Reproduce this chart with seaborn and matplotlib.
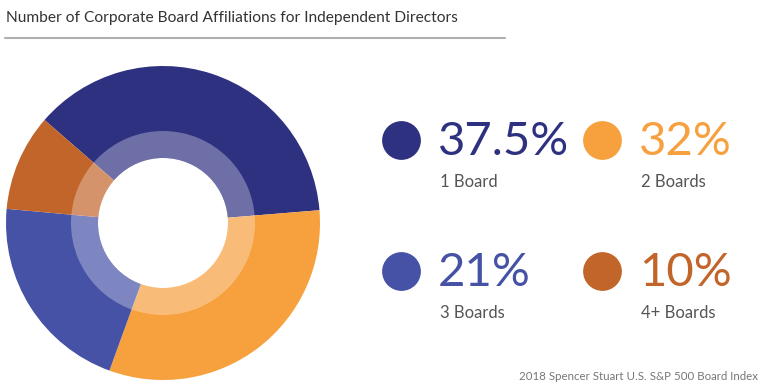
import numpy as np
import matplotlib
matplotlib.use("Agg")
import matplotlib.pyplot as plt
import seaborn as sns

categories = ["1 Board", "2 Boards", "3 Boards", "4+ Boards"]
shares = [37.5, 32, 21, 10]
share_labels = ["37.5%", "32%", "21%", "10%"]
colors = ["#2e3180", "#f7a03e", "#4552a5", "#c2652a"]
title = "Number of Corporate Board Affiliations for Independent Directors"
source = "2018 Spencer Stuart U.S. S&P 500 Board Index"

sns.set_theme(style="white")
plt.rcParams["font.family"] = ["Lato", "DejaVu Sans"]

W, H = 768, 389
fig = plt.figure(figsize=(W / 100, H / 100), dpi=100)

# donut
cx, cy, r = 163, 223, 157
ax = fig.add_axes([(cx - r) / W, (H - cy - r) / H, 2 * r / W, 2 * r / H])
ax.pie(shares, colors=colors, startangle=139, counterclock=False,
       radius=1, wedgeprops=dict(linewidth=0))
# lighter inner band
ax.pie([1], colors=["white"], radius=92 / r,
       wedgeprops=dict(width=27 / r, linewidth=0, alpha=0.3))
ax.add_patch(plt.Circle((0, 0), 65 / r, color="white", lw=0))
ax.set_aspect("equal")
ax.set_xlim(-1, 1)
ax.set_ylim(-1, 1)
ax.axis("off")

# overlay in pixel coords for title/legend
ov = fig.add_axes([0, 0, 1, 1])
ov.set_xlim(0, W)
ov.set_ylim(H, 0)
ov.axis("off")

ov.text(6, 18, title, fontsize=11.2, color="#333333", va="center", ha="left")
ov.plot([5, 505], [38, 38], color="#b0b0b0", lw=1.5)

col_x = [401, 602]
row_y = [140, 271]
for i, (cat, lab, c) in enumerate(zip(categories, share_labels, colors)):
    x = col_x[i % 2]
    y = row_y[i // 2]
    ov.scatter([x], [y], s=780, color=c, lw=0)
    ov.text(x + 37, y + 2, lab, fontsize=34, color=c, va="center", ha="left")
    ov.text(x + 39, y + 42, cat, fontsize=12, color="#555555", va="center", ha="left")

ov.text(758, 376, source, fontsize=8.3, color="#777777", va="center", ha="right")

fig.savefig("out.png", dpi=100)
